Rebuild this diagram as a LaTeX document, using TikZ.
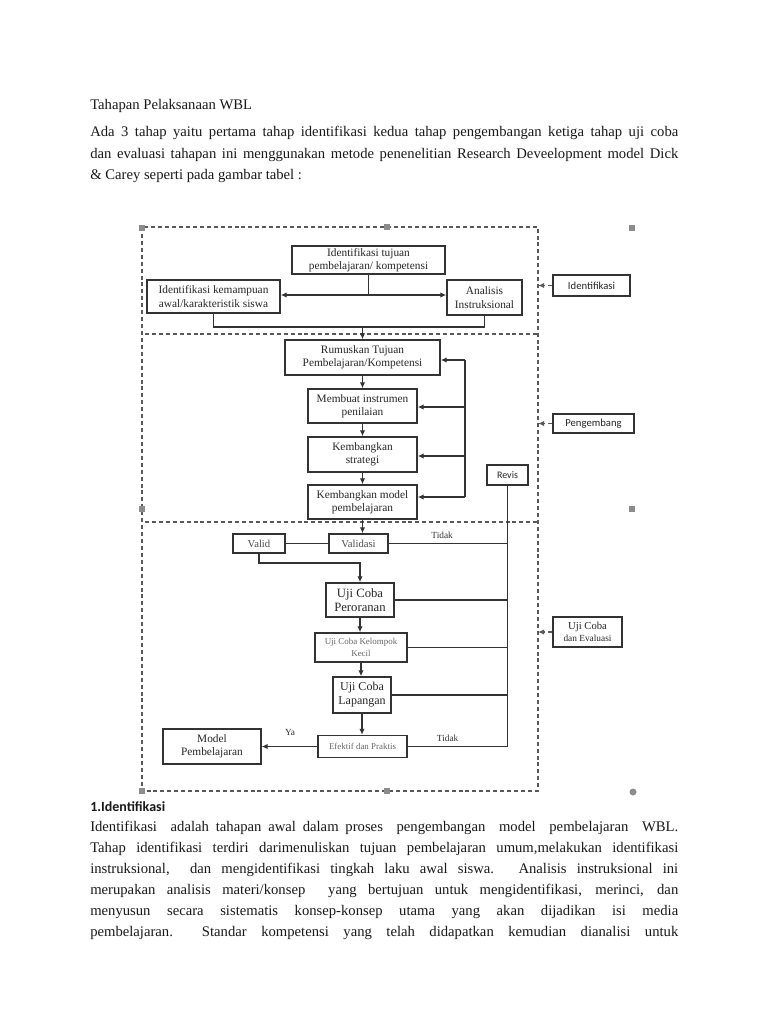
\documentclass[tikz,border=0pt]{standalone}
\usepackage{fontspec}
\setmainfont{Liberation Serif}
\newfontfamily\calib{Carlito}
\usetikzlibrary{arrows.meta}
\begin{document}
\begin{tikzpicture}[x=0.75pt,y=-0.75pt,
  ln/.style={draw=black!80, line width=1pt},
  bx/.style 2 args={ln, rectangle, inner sep=0pt, align=center, minimum width=#1*0.75pt, minimum height=#2*0.75pt, font=\fontsize{8.5}{10}\selectfont, text=black!85},
  arr/.style={ln, -{Latex[length=4.5pt,width=4pt]}},
  con/.style={ln},
  dsh/.style={draw=black!65, line width=0.9pt, dash pattern=on 3pt off 2.2pt},
  body/.style={anchor=base west, inner sep=0pt, font=\fontsize{11}{13}\selectfont, text=black!90},
  lbl/.style={font=\fontsize{7}{8}\selectfont, text=black!80, inner sep=0pt}
]
\useasboundingbox (0,0) rectangle (768,1024);
\fill[white] (0,0) rectangle (768,1024);

% ---- text above
\node[body] (t0) at (90,109) {Tahapan Pelaksanaan WBL};
\node[body] (t1) at (90,137) {\hbox to 441pt{Ada 3 tahap yaitu pertama tahap identifikasi kedua tahap pengembangan ketiga tahap uji coba}};
\node[body] (t2) at (90,158) {\hbox to 441pt{dan evaluasi tahapan ini menggunakan metode penenelitian Research Deveelopment model Dick}};
\node[body] (t3) at (90,179) {\& Carey seperti pada gambar tabel :};

% ---- frame
\coordinate (fTL) at (142,227);
\coordinate (fBR) at (538,791);
\draw[dsh] (fTL) rectangle (fBR);
\draw[dsh] (145,334) -- (538,334);
\draw[dsh] (145,522) -- (538,522);
\foreach \x/\y in {142/228,387/227,632/228,142/509,632/509,142/791,387/791}
  \fill[black!45] (\x-3,\y-3) rectangle (\x+3,\y+3);
\fill[black!45] (633,792) circle (3.5);

% ---- boxes
\node[bx={153}{28}] (itujuan) at (368.5,260) {Identifikasi tujuan\\pembelajaran/ kompetensi};
\node[bx={133}{33}] (ikemampuan) at (213.5,296.5) {Identifikasi kemampuan\\awal/karakteristik siswa};
\node[bx={75}{35}] (analisis) at (484.5,297.5) {Analisis\\Instruksional};
\node[bx={155}{35}] (rumuskan) at (362.5,357.5) {Rumuskan Tujuan\\Pembelajaran/Kompetensi};
\node[bx={109}{34}] (membuat) at (362.5,406) {Membuat instrumen\\penilaian};
\node[bx={109}{35}] (kstrategi) at (362.5,454.5) {Kembangkan\\strategi};
\node[bx={109}{34}] (kmodel) at (362.5,502) {Kembangkan model\\pembelajaran};
\node[bx={41}{20}, font=\calib\fontsize{7.5}{9}\selectfont] (revis) at (507.5,475) {Revis};
\node[bx={59}{19}, font=\fontsize{8}{9}\selectfont, text=black!70] (validasi) at (358.5,543.5) {Validasi};
\node[bx={52}{19}, font=\fontsize{8}{9}\selectfont, text=black!70] (valid) at (259,543.5) {Valid};
\node[bx={68}{34}, font=\fontsize{9.5}{10.5}\selectfont] (peroranan) at (360,600) {Uji Coba\\Peroranan};
\node[bx={92}{29}, font=\fontsize{6.7}{9}\selectfont, text=black!60] (kelompok) at (361,647.5) {Uji Coba Kelompok\\Kecil};
\node[bx={58}{36}, font=\fontsize{9}{10.5}\selectfont] (lapangan) at (362,695) {Uji Coba\\Lapangan};
\node[bx={89}{22}, font=\fontsize{6.7}{8}\selectfont, text=black!60] (efektif) at (362.5,746.5) {Efektif dan Praktis};
\node[bx={98}{35}] (model) at (212,746.5) {Model\\Pembelajaran};
\node[bx={77}{21}, font=\calib\fontsize{8}{9}\selectfont] (lid) at (591.5,285.5) {Identifikasi};
\node[bx={81}{19}, font=\calib\fontsize{8}{9}\selectfont] (lpeng) at (593.5,423.5) {Pengembang};
\node[bx={69}{30}, font=\fontsize{8}{9.5}\selectfont] (luji) at (587.5,632) {Uji Coba\\{\fontsize{7}{8}\selectfont dan Evaluasi}};

% ---- connectors: identifikasi
\coordinate (j1) at (368.5,295);
\draw[con] (itujuan.south) -- (j1);
\draw[arr] (j1) -- (j1 -| ikemampuan.east);
\draw[arr] (j1) -- (j1 -| analisis.west);
\coordinate (jb) at (362.5,327);
\draw[con] (ikemampuan.south) |- (analisis.south |- jb) -- (analisis.south);
\draw[arr] (jb) -- (rumuskan.north);

% ---- pengembang
\draw[arr] (rumuskan.south) -- (membuat.north);
\draw[arr] (membuat.south) -- (kstrategi.north);
\draw[arr] (kstrategi.south) -- (kmodel.north);
\draw[arr] (kmodel.south) -- (kmodel.south |- validasi.north);
\coordinate (f1) at (465,360);
\coordinate (f2) at (465,407);
\coordinate (f3) at (465,456);
\coordinate (f4) at (465,497);
\draw[con] (f1) -- (f4);
\draw[arr] (f1) -- (f1 -| rumuskan.east);
\draw[arr] (f2) -- (f2 -| membuat.east);
\draw[arr] (f3) -- (f3 -| kstrategi.east);
\draw[arr] (f4) -- (f4 -| kmodel.east);

% ---- uji coba
\draw[con] (revis.south) -- (revis.south |- efektif.east);
\draw[con] (validasi.east) -- (validasi.east -| revis.south) node[lbl, pos=0.45, above=3pt] {Tidak};
\draw[con] (valid.east) -- (validasi.west);
\coordinate (vb) at (360,563);
\draw[arr] (valid.south) |- (vb) -- (peroranan.north);
\draw[con] (peroranan.east) -- (peroranan.east -| revis.south);
\draw[con] (kelompok.east) -- (kelompok.east -| revis.south);
\draw[con] (lapangan.east) -- (lapangan.east -| revis.south);
\draw[arr] (peroranan.south) -- (peroranan.south |- kelompok.north);
\draw[arr] (kelompok.south) -- (kelompok.south |- lapangan.north);
\draw[arr] (lapangan.south) -- (lapangan.south |- efektif.north);
\draw[con] (efektif.east) -- (efektif.east -| revis.south) node[lbl, pos=0.4, above=3pt] {Tidak};
\draw[arr] (efektif.west) -- (efektif.west -| model.east) node[lbl, pos=0.49, above=8pt] {Ya};

% ---- side labels
\draw[dsh, -{Latex[length=4.5pt,width=4pt]}] (lid.west) -- (lid.west -| fBR);
\draw[dsh, -{Latex[length=4.5pt,width=4pt]}] (lpeng.west) -- (lpeng.west -| fBR);
\draw[dsh, -{Latex[length=4.5pt,width=4pt]}] (luji.west) -- (luji.west -| fBR);

% ---- text below
\node[body, font=\calib\bfseries\fontsize{10.5}{13}\selectfont] (h1) at (90,811) {1.Identifikasi};
\node[body] (b1) at (90,831) {\hbox to 441pt{Identifikasi\ \ adalah tahapan awal dalam proses\ \ pengembangan\ \ model\ \ pembelajaran\ \ WBL.}};
\node[body] (b2) at (90,852) {\hbox to 441pt{Tahap identifikasi terdiri darimenuliskan tujuan pembelajaran umum,melakukan identifikasi}};
\node[body] (b3) at (90,873) {\hbox to 441pt{instruksional,\ \ dan mengidentifikasi tingkah laku awal siswa. Analisis instruksional ini}};
\node[body] (b4) at (90,894) {\hbox to 441pt{merupakan analisis materi/konsep\ \ yang bertujuan untuk mengidentifikasi, merinci, dan}};
\node[body] (b5) at (90,915) {\hbox to 441pt{menyusun secara sistematis konsep-konsep utama yang akan dijadikan isi media}};
\node[body] (b6) at (90,936) {\hbox to 441pt{pembelajaran.\ \ Standar kompetensi yang telah didapatkan kemudian dianalisi untuk}};
\end{tikzpicture}
\end{document}
